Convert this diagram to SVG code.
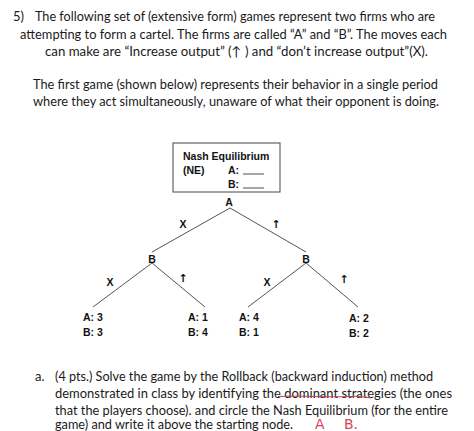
<svg xmlns="http://www.w3.org/2000/svg" width="474" height="431" viewBox="0 0 474 431">
<style>
.body{font-family:"Lato","Liberation Sans",sans-serif;font-size:13px;fill:#1a1a1a}
.tree{font-family:"Liberation Sans",Arial,sans-serif;font-size:10.5px;font-weight:bold;fill:#111}
.edge{stroke:#555;stroke-width:1;fill:none}
.arr{font-family:"DejaVu Sans",sans-serif;font-size:11px;font-weight:bold;fill:#111}
.hand{font-family:"DejaVu Sans",sans-serif;font-size:14px;fill:#d9435a}
</style>
<rect width="474" height="431" fill="#fff"/>
<g id="intro">
<text class="body" x="13" y="21">5)</text>
<text class="body" x="35" y="21" textLength="400" lengthAdjust="spacingAndGlyphs">The following set of (extensive form) games represent two firms who are</text>
<text class="body" x="20" y="38.5" textLength="427" lengthAdjust="spacingAndGlyphs">attempting to form a cartel. The firms are called “A” and “B”.  The moves each</text>
<text class="body" x="45" y="56" textLength="383" lengthAdjust="spacingAndGlyphs">can make are “Increase output” (↑ ) and “don’t increase output”(X).</text>
<text class="body" x="33" y="89" textLength="405" lengthAdjust="spacingAndGlyphs">The first game (shown below) represents their behavior in a single period</text>
<text class="body" x="33" y="106" textLength="406" lengthAdjust="spacingAndGlyphs">where they act simultaneously, unaware of what their opponent is doing.</text>
</g>
<g id="ne-box">
<rect x="173" y="143" width="107" height="49" fill="#fff" stroke="#444" stroke-width="1"/>
<text class="tree" x="183" y="160" font-size="10">Nash Equilibrium</text>
<text class="tree" x="183" y="174" font-size="10">(NE)</text>
<text class="tree" x="228" y="174" font-size="10">A:</text>
<line x1="243" y1="174" x2="264" y2="174" stroke="#222" stroke-width="0.8"/>
<text class="tree" x="228" y="188" font-size="10">B:</text>
<line x1="243" y1="188" x2="264" y2="188" stroke="#222" stroke-width="0.8"/>
</g>
<g id="connectors">
<path class="edge" d="M230,208 L152,252 M230,208 L306,252 M152,263 L93,307 M152,263 L205,307 M306,263 L248,307 M306,263 L358,307"/>
</g>
<g id="edge-labels">
<text class="tree" x="183" y="228" text-anchor="middle">X</text>
<text class="arr" x="276" y="228" text-anchor="middle">↑</text>
<text class="tree" x="110" y="286" text-anchor="middle">X</text>
<text class="arr" x="183" y="282" text-anchor="middle">↑</text>
<text class="tree" x="267" y="286" text-anchor="middle">X</text>
<text class="arr" x="344" y="283" text-anchor="middle">↑</text>
</g>
<g id="node-root"><text class="tree" x="229" y="206" text-anchor="middle">A</text></g>
<g id="node-b-left"><text class="tree" x="152" y="263" text-anchor="middle">B</text></g>
<g id="node-b-right"><text class="tree" x="306" y="263" text-anchor="middle">B</text></g>
<g id="leaf-1"><text class="tree" x="83" y="321">A: 3</text><text class="tree" x="83" y="336">B: 3</text></g>
<g id="leaf-2"><text class="tree" x="188" y="321">A: 1</text><text class="tree" x="188" y="336">B: 4</text></g>
<g id="leaf-3"><text class="tree" x="239" y="321">A: 4</text><text class="tree" x="239" y="336">B: 1</text></g>
<g id="leaf-4"><text class="tree" x="349" y="322">A: 2</text><text class="tree" x="349" y="337">B: 2</text></g>
<g id="question-a">
<text class="body" x="35" y="381">a.</text>
<text class="body" x="55" y="381" textLength="378" lengthAdjust="spacingAndGlyphs">(4 pts.) Solve the game by the Rollback (backward induction) method</text>
<text class="body" x="55" y="398" textLength="397" lengthAdjust="spacingAndGlyphs">demonstrated in class by identifying the dominant strategies (the ones</text>
<text class="body" x="55" y="415" textLength="393" lengthAdjust="spacingAndGlyphs">that the players choose).  and circle the Nash Equilibrium (for the entire</text>
<text class="body" x="55" y="429" textLength="238" lengthAdjust="spacingAndGlyphs">game) and write it above the starting node.</text>
<path d="M278,396.5 C300,395.5 330,397.5 350,396.5 C358,396 365,397 371,398" stroke="#c0405a" stroke-width="1" fill="none"/>
<text class="hand" x="315" y="429">A</text>
<text class="hand" x="344" y="429">B.</text>
</g>
</svg>
